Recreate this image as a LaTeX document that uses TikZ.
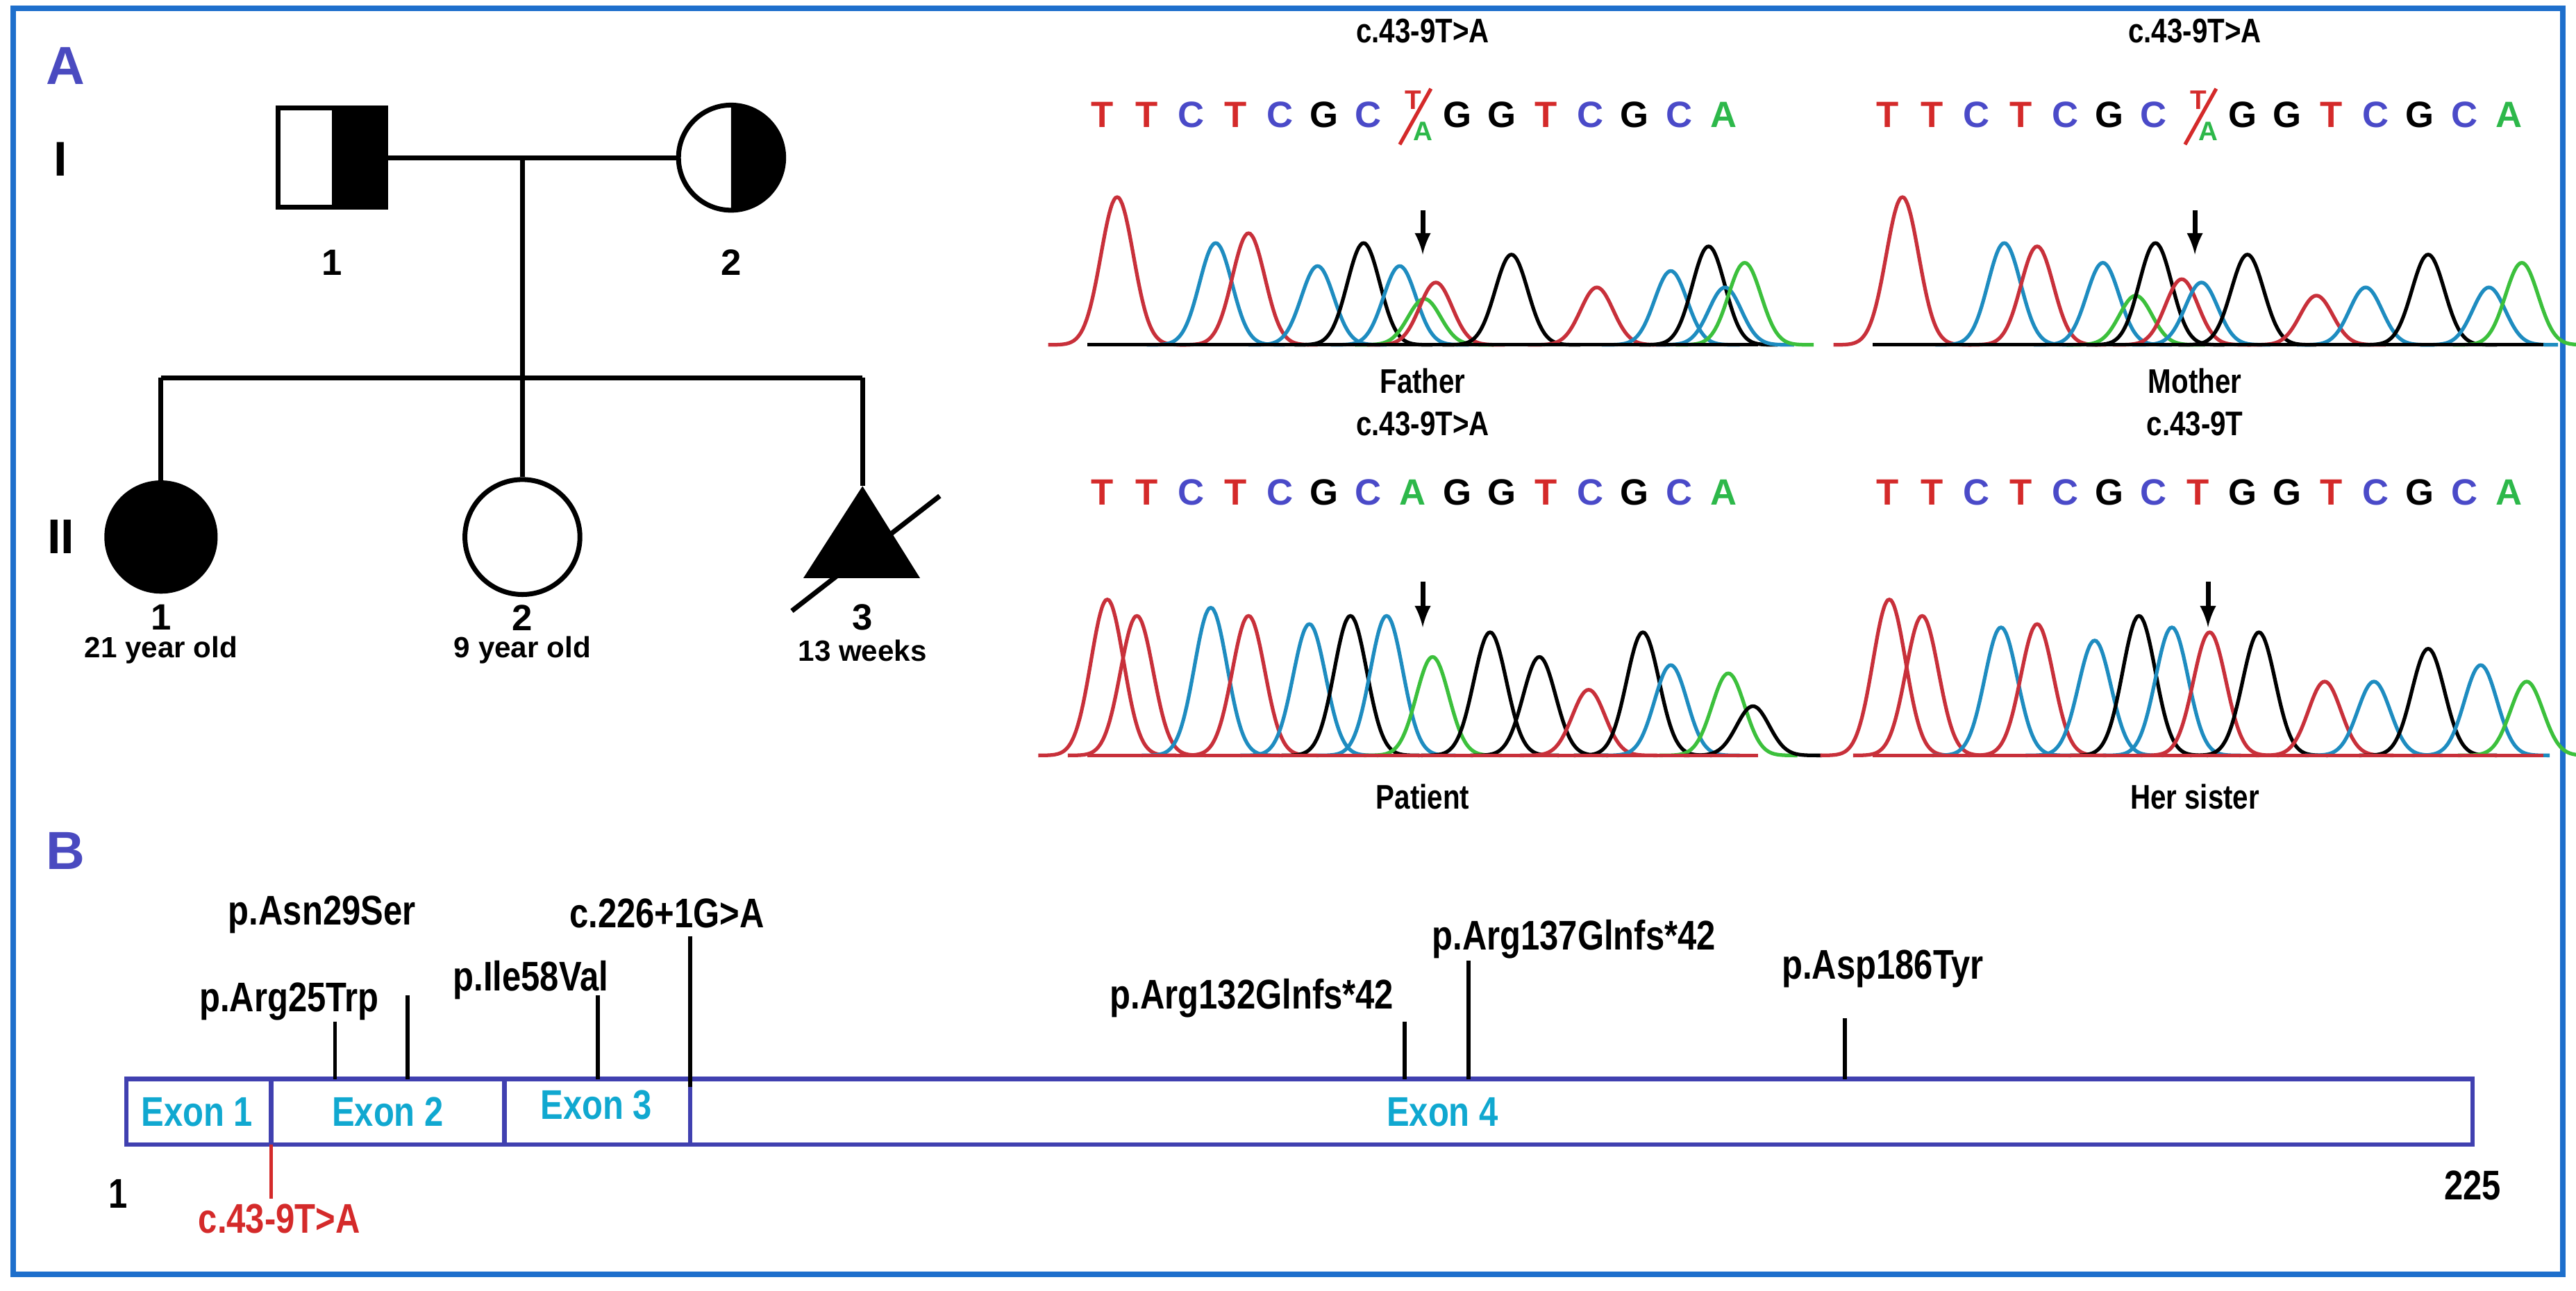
\documentclass[tikz,border=0pt]{standalone}
\usepackage{fontspec}
\setmainfont{Liberation Sans}
\newfontfamily\nar{Liberation Sans}[FakeStretch=0.82]
\begin{document}
\definecolor{frm}{HTML}{1E6FCC}
\definecolor{lab}{HTML}{4A4AC0}
\definecolor{bx}{HTML}{4040B0}
\definecolor{ex}{HTML}{10A8D0}
\definecolor{bT}{HTML}{D42A2A}
\definecolor{bC}{HTML}{4A4AC8}
\definecolor{bA}{HTML}{2DB84A}
\definecolor{pR}{HTML}{C8303A}
\definecolor{pB}{HTML}{1E8CC0}
\definecolor{pK}{HTML}{000000}
\definecolor{pA}{HTML}{3CC03C}
\tikzset{
 ped/.style={line width=2pt},
 ttl/.style={font=\nar\bfseries\fontsize{14}{14}\selectfont},
 seq/.style={font=\bfseries\fontsize{15}{15}\selectfont},
 mut/.style={font=\nar\bfseries\fontsize{17}{17}\selectfont},
 exn/.style={font=\nar\bfseries\fontsize{17}{17}\selectfont,text=ex},
 num/.style={font=\bfseries\fontsize{15}{15}\selectfont},
 age/.style={font=\bfseries\fontsize{12}{12}\selectfont},
 mk/.style={line width=1.6pt},
 arr/.style={line width=2pt,-latex},
}
\newcommand\pk[4]{\draw[#3,line width=1.5pt] plot[domain=(#1)-42:(#1)+42,samples=44,smooth] (\x,{#4-#2*exp(-((\x-(#1))/14)^2)});}
\newcommand\seqrow[3]{%
 \foreach \L/\c [count=\i from 0] in {#3}{\node[seq,text=\c] (s\i) at (#1+9+27*\i,#2) {\L};}}
\begin{tikzpicture}[x=0.02366cm,y=-0.02366cm]
\useasboundingbox (0,0) rectangle (1568,786);
\draw[frm,line width=2.2pt] (8,5) rectangle (1560,776);
\node[text=lab,font=\bfseries\fontsize{22}{22}\selectfont] (la) at (40,40) {A};
\node[text=lab,font=\bfseries\fontsize{22}{22}\selectfont] (lb) at (40,518) {B};
\node[font=\bfseries\fontsize{20}{20}\selectfont] (g1) at (37,97) {I};
\node[font=\bfseries\fontsize{20}{20}\selectfont] (g2) at (37,327) {II};
% pedigree
\node[minimum width=65*0.02366cm,minimum height=60*0.02366cm,inner sep=0] (fa) at (202,96) {};
\fill (202,66) rectangle (235,126);
\draw[ped] (fa.north west) rectangle (fa.south east);
\node[circle,minimum size=64*0.02366cm,inner sep=0] (mo) at (445,96) {};
\fill (445,64) arc[start angle=-90,end angle=90,radius=32] -- cycle;
\draw[ped] (445,96) circle[radius=32];
\draw[ped] (fa.east) -- (mo.west);
\coordinate (m) at (318,96);
\coordinate (sb) at (318,230);
\node[ped,draw,circle,fill=black,minimum size=66*0.02366cm,inner sep=0] (c1) at (98,327) {};
\node[ped,draw,circle,minimum size=70*0.02366cm,inner sep=0] (c2) at (318,327) {};
\coordinate (c3) at (525,296);
\fill (525,296) -- (560,352) -- (489,352) -- cycle;
\draw[ped] (482,372) -- (572,302);
\draw[ped] (m) -- (sb);
\draw[ped] (98,230) -- (525,230);
\draw[ped] (98,230) -- (c1.north);
\draw[ped] (318,230) -- (c2.north);
\draw[ped] (525,230) -- (c3);
\node[num] (n1) at (202,160) {1};
\node[num] (n2) at (445,160) {2};
\node[num] (n3) at (98,376) {1};
\node[num] (n4) at (318,376) {2};
\node[num] (n5) at (525,376) {3};
\node[age] (a1) at (98,396) {21 year old};
\node[age] (a2) at (318,396) {9 year old};
\node[age] (a3) at (525,396) {13 weeks};
% father
\node[ttl] (t1) at (866,19) {c.43-9T>A};
\seqrow{662}{70}{T/bT,T/bT,C/bC,T/bT,C/bC,G/black,C/bC,/black,G/black,G/black,T/bT,C/bC,G/black,C/bC,A/bA}
\node[text=bT,font=\bfseries\fontsize{11}{11}\selectfont] (h1) at (860,61) {T};
\node[text=bA,font=\bfseries\fontsize{11}{11}\selectfont] (h2) at (866,80) {A};
\draw[bT,line width=1.5pt] (852,88) -- (871,54);
\coordinate (ar1a) at (866,128); \coordinate (ar1b) at (866,155);
\draw[arr] (ar1a) -- (ar1b);
\foreach \p/\c/\h in {18/pR/90,78/pB/62,98/pR/68,140/pB/48,168/pK/62,190/pB/48,205/pA/28,212/pR/38,258/pK/55,310/pR/35,355/pB/45,378/pK/60,388/pB/35,400/pA/50}{\pk{662+\p}{\h}{\c}{210}}
\draw[pK,line width=1.4pt] (662,210) -- (1070,210);
\node[ttl] (f1) at (866,232) {Father};
% mother
\node[ttl] (t2) at (1336,19) {c.43-9T>A};
\seqrow{1140}{70}{T/bT,T/bT,C/bC,T/bT,C/bC,G/black,C/bC,/black,G/black,G/black,T/bT,C/bC,G/black,C/bC,A/bA}
\node[text=bT,font=\bfseries\fontsize{11}{11}\selectfont] (h3) at (1338,61) {T};
\node[text=bA,font=\bfseries\fontsize{11}{11}\selectfont] (h4) at (1344,80) {A};
\draw[bT,line width=1.5pt] (1330,88) -- (1349,54);
\coordinate (ar2a) at (1336,128); \coordinate (ar2b) at (1336,155);
\draw[arr] (ar2a) -- (ar2b);
\foreach \p/\c/\h in {18/pR/90,80/pB/62,100/pR/60,140/pB/50,160/pA/30,172/pK/62,188/pR/40,200/pB/38,228/pK/55,270/pR/30,300/pB/35,338/pK/55,375/pB/35,395/pA/50}{\pk{1140+\p}{\h}{\c}{210}}
\draw[pK,line width=1.4pt] (1140,210) -- (1548,210);
\node[ttl] (f2) at (1336,232) {Mother};
% patient
\node[ttl] (t3) at (866,258) {c.43-9T>A};
\seqrow{662}{300}{T/bT,T/bT,C/bC,T/bT,C/bC,G/black,C/bC,A/bA,G/black,G/black,T/bT,C/bC,G/black,C/bC,A/bA}
\coordinate (ar3a) at (866,354); \coordinate (ar3b) at (866,382);
\draw[arr] (ar3a) -- (ar3b);
\foreach \p/\c/\h in {12/pR/95,30/pR/85,75/pB/90,98/pR/85,135/pB/80,160/pK/85,182/pB/85,210/pA/60,245/pK/75,275/pK/60,305/pR/40,338/pK/75,355/pB/55,390/pA/50,405/pK/30}{\pk{662+\p}{\h}{\c}{460}}
\draw[pR,line width=1.4pt] (662,460) -- (1070,460);
\node[ttl] (f3) at (866,485) {Patient};
% sister
\node[ttl] (t4) at (1336,258) {c.43-9T};
\seqrow{1140}{300}{T/bT,T/bT,C/bC,T/bT,C/bC,G/black,C/bC,T/bT,G/black,G/black,T/bT,C/bC,G/black,C/bC,A/bA}
\coordinate (ar4a) at (1344,354); \coordinate (ar4b) at (1344,382);
\draw[arr] (ar4a) -- (ar4b);
\foreach \p/\c/\h in {10/pR/95,30/pR/85,78/pB/78,100/pR/80,135/pB/70,162/pK/85,182/pB/78,205/pR/75,235/pK/75,275/pR/45,305/pB/45,338/pK/65,370/pB/55,398/pA/45}{\pk{1140+\p}{\h}{\c}{460}}
\draw[pR,line width=1.4pt] (1140,460) -- (1548,460);
\node[ttl] (f4) at (1336,485) {Her sister};
% gene
\draw[bx,line width=1.8pt] (77,657) rectangle (1505,697);
\draw[bx,line width=1.8pt] (165,657) -- (165,697) (307,657) -- (307,697) (420,657) -- (420,697);
\node[exn] (e1) at (120,677) {Exon 1};
\node[exn] (e2) at (236,677) {Exon 2};
\node[exn] (e3) at (363,673) {Exon 3};
\node[exn] (e4) at (878,677) {Exon 4};
\node[mut] (m1) at (176,610) {p.Arg25Trp};
\node[mut] (m2) at (196,557) {p.Asn29Ser};
\node[mut] (m3) at (323,597) {p.Ile58Val};
\node[mut] (m4) at (406,556) {c.226+1G>A};
\node[mut] (m5) at (762,608) {p.Arg132Glnfs*42};
\node[mut] (m6) at (958,572) {p.Arg137Glnfs*42};
\node[mut] (m7) at (1146,590) {p.Asp186Tyr};
\draw[mk] (204,622) -- (204,657);
\draw[mk] (248,606) -- (248,657);
\draw[mk] (364,606) -- (364,657);
\draw[mk] (420,570) -- (420,662);
\draw[mk] (855,622) -- (855,657);
\draw[mk] (894,585) -- (894,657);
\draw[mk] (1123,620) -- (1123,657);
\draw[mk,bT] (165,697) -- (165,730);
\node[mut,text=bT] (m8) at (170,742) {c.43-9T>A};
\node[mut] (p1) at (72,727) {1};
\node[mut] (p2) at (1505,722) {225};
\end{tikzpicture}
\end{document}
